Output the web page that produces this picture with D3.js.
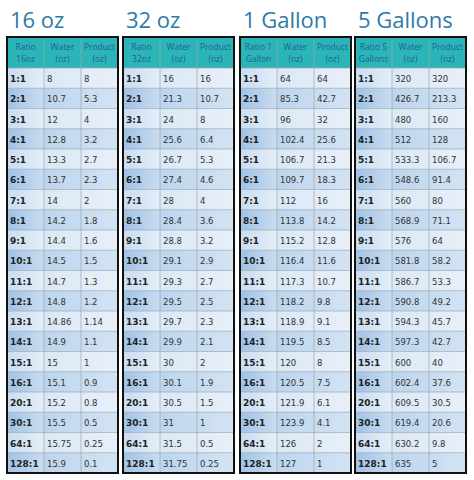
<!DOCTYPE html><html><head><meta charset="utf-8"><script src="https://cdn.jsdelivr.net/npm/d3@7"></script>
<style>body{margin:0;background:#fff}</style></head><body><svg id="c" width="474" height="480"></svg>
<script>
const titles=["16 oz","32 oz","1 Gallon","5 Gallons"];
const ratioHeaders=[["Ratio","16oz"],["Ratio","32oz"],["Ratio 1","Gallon"],["Ratio 5","Gallons"]];
const ratios=["1:1","2:1","3:1","4:1","5:1","6:1","7:1","8:1","9:1","10:1","11:1","12:1","13:1","14:1","15:1","16:1","20:1","30:1","64:1","128:1"];
const water16=["8","10.7","12","12.8","13.3","13.7","14","14.2","14.4","14.5","14.7","14.8","14.86","14.9","15","15.1","15.2","15.5","15.75","15.9"];
const product16=["8","5.3","4","3.2","2.7","2.3","2","1.8","1.6","1.5","1.3","1.2","1.14","1.1","1","0.9","0.8","0.5","0.25","0.1"];
const water32=["16","21.3","24","25.6","26.7","27.4","28","28.4","28.8","29.1","29.3","29.5","29.7","29.9","30","30.1","30.5","31","31.5","31.75"];
const product32=["16","10.7","8","6.4","5.3","4.6","4","3.6","3.2","2.9","2.7","2.5","2.3","2.1","2","1.9","1.5","1","0.5","0.25"];
const water1g=["64","85.3","96","102.4","106.7","109.7","112","113.8","115.2","116.4","117.3","118.2","118.9","119.5","120","120.5","121.9","123.9","126","127"];
const product1g=["64","42.7","32","25.6","21.3","18.3","16","14.2","12.8","11.6","10.7","9.8","9.1","8.5","8","7.5","6.1","4.1","2","1"];
const water5g=["320","426.7","480","512","533.3","548.6","560","568.9","576","581.8","586.7","590.8","594.3","597.3","600","602.4","609.5","619.4","630.2","635"];
const product5g=["320","213.3","160","128","106.7","91.4","80","71.1","64","58.2","53.3","49.2","45.7","42.7","40","37.6","30.5","20.6","9.8","5"];
const waters=[water16,water32,water1g,water5g], products=[product16,product32,product1g,product5g];
const lefts=[7,123,240,355], W=111;
const svg=d3.select("#c");
const defs=svg.append("defs");
function grad(id,a,b){const g=defs.append("linearGradient").attr("id",id);g.append("stop").attr("offset","0").attr("stop-color",a);g.append("stop").attr("offset","1").attr("stop-color",b);}
grad("r0","#c9dcf0","#e4eef8");grad("r1","#9fc2e6","#c9dcf0");
grad("c0","#dbe8f5","#e8f0f9");grad("c1","#bcd5ee","#d3e3f3");
const y=d3.scaleBand().domain(ratios).range([68,473]);
titles.forEach((t,i)=>{
  const x0=lefts[i], cx=d3.scaleLinear().domain([0,3]).range([x0,x0+W]);
  svg.append("text").attr("x",x0+3).attr("y",28).attr("font-family","Open Sans, sans-serif").attr("font-size",22).attr("fill","#2f7aa6").text(t);
  svg.append("rect").attr("x",x0).attr("y",37).attr("width",W).attr("height",31).attr("fill","#2bb5b7");
  const hdr=[ratioHeaders[i],["Water","(oz)"],["Product","(oz)"]];
  hdr.forEach((h,j)=>h.forEach((s,k)=>svg.append("text").attr("x",(cx(j)+cx(j+1))/2).attr("y",50+k*12).attr("text-anchor","middle").attr("font-family","Open Sans, sans-serif").attr("font-size",8.5).attr("fill","#1f5f99").text(s)));
  ratios.forEach((r,k)=>{
    const yy=y(r),h=y.bandwidth(),p=k%2;
    svg.append("rect").attr("x",cx(0)).attr("y",yy).attr("width",cx(1)-cx(0)).attr("height",h).attr("fill",`url(#r${p})`);
    svg.append("rect").attr("x",cx(1)).attr("y",yy).attr("width",cx(3)-cx(1)).attr("height",h).attr("fill",`url(#c${p})`);
    [r,waters[i][k],products[i][k]].forEach((v,j)=>svg.append("text").attr("x",cx(j)+3).attr("y",yy+h/2+4).attr("font-family","DejaVu Sans, sans-serif").attr("font-size",j?8.5:9).attr("font-weight",j?"normal":"bold").attr("fill",j?"#333":"#222").text(v));
  });
  ratios.forEach(r=>svg.append("line").attr("x1",x0).attr("x2",x0+W).attr("y1",y(r)).attr("y2",y(r)).attr("stroke","#9aa8b5").attr("stroke-width",0.7));
  [1,2].forEach(j=>svg.append("line").attr("x1",cx(j)).attr("x2",cx(j)).attr("y1",37).attr("y2",473).attr("stroke","#9aa8b5").attr("stroke-width",0.7));
  svg.append("rect").attr("x",x0).attr("y",37).attr("width",W).attr("height",436).attr("fill","none").attr("stroke","#111").attr("stroke-width",2);
});
</script></body></html>
